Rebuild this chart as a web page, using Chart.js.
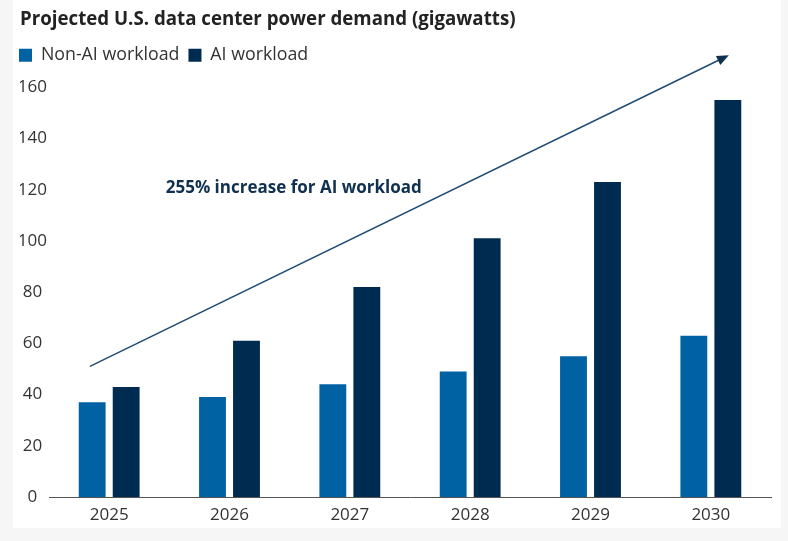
<!DOCTYPE html>
<html>
<head>
<meta charset="utf-8">
<script src="https://cdn.jsdelivr.net/npm/chart.js@4"></script>
<style>
  html, body { margin: 0; padding: 0; background: #f6f6f6; }
  #wrap { position: absolute; left: 13px; top: 0; width: 768px; height: 528px; background: #fff; }
</style>
</head>
<body>
<div id="wrap"><canvas id="myChart"></canvas></div>
<script>
const years = ['2025', '2026', '2027', '2028', '2029', '2030'];
const nonAi = [37, 39, 44, 49, 55, 63];
const ai = [43, 61, 82, 101, 123, 155];
const yTicks = [0, 20, 40, 60, 80, 100, 120, 140, 160];

const FONT = '"Open Sans", "Noto Sans", sans-serif';

// arrow + label, placed in data units
const trendArrow = {
  id: 'trendArrow',
  afterDraw(chart) {
    const { ctx, scales: { x, y } } = chart;
    const x0 = x.getPixelForValue(-0.16), y0 = y.getPixelForValue(51);
    const x1 = x.getPixelForValue(5.15), y1 = y.getPixelForValue(172.5);
    const ang = Math.atan2(y1 - y0, x1 - x0);
    ctx.save();
    ctx.strokeStyle = '#1f4c75';
    ctx.fillStyle = '#10304f';
    ctx.lineWidth = 1.5;
    ctx.beginPath();
    ctx.moveTo(x0, y0);
    ctx.lineTo(x1 - 8 * Math.cos(ang), y1 - 8 * Math.sin(ang));
    ctx.stroke();
    ctx.beginPath();
    ctx.moveTo(x1, y1);
    ctx.lineTo(x1 - 12 * Math.cos(ang) + 5 * Math.sin(ang), y1 - 12 * Math.sin(ang) - 5 * Math.cos(ang));
    ctx.lineTo(x1 - 12 * Math.cos(ang) - 5 * Math.sin(ang), y1 - 12 * Math.sin(ang) + 5 * Math.cos(ang));
    ctx.closePath();
    ctx.fill();
    ctx.font = 'bold 17px ' + FONT;
    ctx.textAlign = 'left';
    ctx.textBaseline = 'middle';
    ctx.fillText('255% increase for AI workload', x.getPixelForValue(0.47), y.getPixelForValue(120.5));
    ctx.restore();
  }
};

// extra room under the legend, and pull it flush with the title
const legendSpace = {
  id: 'legendSpace',
  beforeInit(chart) {
    const fit = chart.legend.fit;
    chart.legend.fit = function () {
      fit.call(this);
      this.height += 13;
    };
  },
  afterLayout(chart) {
    chart.legend.left -= 10;
  }
};

const ctx = document.getElementById('myChart').getContext('2d');
new Chart(ctx, {
  type: 'bar',
  data: {
    labels: years,
    datasets: [
      { label: 'Non-AI workload', data: nonAi, backgroundColor: '#0061a3' },
      { label: 'AI workload', data: ai, backgroundColor: '#002b50' }
    ]
  },
  options: {
    responsive: true,
    maintainAspectRatio: false,
    animation: false,
    datasets: { bar: { categoryPercentage: 0.565, barPercentage: 0.79 } },
    layout: { padding: { left: 7, right: 10, bottom: 0 } },
    plugins: {
      title: {
        display: true,
        text: 'Projected U.S. data center power demand (gigawatts)',
        align: 'start',
        color: '#222',
        font: { family: FONT, size: 18.7, weight: 'bold' },
        padding: { top: 8, bottom: 7 }
      },
      legend: {
        align: 'start',
        labels: {
          color: '#333',
          font: { family: FONT, size: 17.8 },
          boxWidth: 13,
          boxHeight: 13,
          padding: 9
        }
      },
      tooltip: { enabled: false }
    },
    scales: {
      x: {
        afterFit(scale) { scale.height = 31; },
        grid: { display: false, drawTicks: false },
        border: { color: '#555' },
        ticks: { color: '#333', font: { family: FONT, size: 17 }, padding: 8 }
      },
      y: {
        min: 0,
        max: 160,
        afterFit(scale) { scale.width = 29; },
        afterBuildTicks(scale) { scale.ticks = yTicks.map(v => ({ value: v })); },
        grid: { display: false, drawTicks: false },
        border: { display: false },
        ticks: { color: '#333', font: { family: FONT, size: 17 }, padding: 2, crossAlign: 'center' }
      }
    }
  },
  plugins: [trendArrow, legendSpace]
});
</script>
</body>
</html>
